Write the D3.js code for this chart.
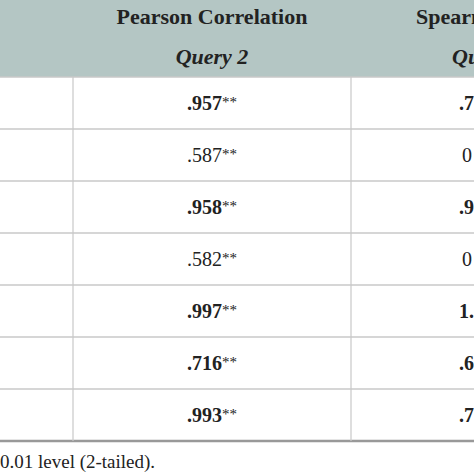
<!DOCTYPE html><html><head><meta charset="utf-8">
<script src="https://cdn.jsdelivr.net/npm/d3@7"></script>
<style>body{margin:0;background:#fff}</style></head><body>
<script>
const rows=[0,1,2,3,4,5,6];
const pearson=[".957",".587",".958",".582",".997",".716",".993"];
const pearsonBold=[true,false,true,false,true,true,true];
const spearman=[".7",  "0", ".9", "0", "1.", ".6", ".7"];
const spearmanBold=[true,false,true,false,true,true,true];
const headers=["Pearson Correlation","Spearman Correlation"];
const subHeaders=["Query 2","Query 2"];
const footnote="0.01 level (2-tailed).";

const W=474,H=474;
const svg=d3.select("body").append("svg").attr("width",W).attr("height",H)
 .style("font-family","'Liberation Serif',serif");
const y=d3.scaleBand().domain(rows).range([77,441]);
svg.append("rect").attr("x",0).attr("y",0).attr("width",W).attr("height",77).attr("fill","#b4c6c4");
svg.append("text").attr("x",212).attr("y",24).attr("text-anchor","middle").attr("font-size",22).attr("font-weight","bold").attr("fill","#222").text(headers[0]);
svg.append("text").attr("x",212).attr("y",64).attr("text-anchor","middle").attr("font-size",22).attr("font-weight","bold").attr("font-style","italic").attr("fill","#222").text(subHeaders[0]);
svg.append("text").attr("x",416).attr("y",24).attr("font-size",22).attr("font-weight","bold").attr("fill","#222").text(headers[1]);
svg.append("text").attr("x",452).attr("y",64).attr("font-size",22).attr("font-weight","bold").attr("font-style","italic").attr("fill","#222").text(subHeaders[1]);
svg.selectAll("line.h").data(rows.slice(1)).join("line").attr("x1",0).attr("x2",W)
 .attr("y1",d=>y(d)).attr("y2",d=>y(d)).attr("stroke","#c8c8c8").attr("stroke-width",1.5);
svg.append("line").attr("x1",0).attr("x2",W).attr("y1",77).attr("y2",77).attr("stroke","#c8c8c8").attr("stroke-width",1.5);
svg.append("line").attr("x1",0).attr("x2",W).attr("y1",441).attr("y2",441).attr("stroke","#999").attr("stroke-width",2.5);
[73,351].forEach(x=>svg.append("line").attr("x1",x).attr("x2",x).attr("y1",77).attr("y2",441).attr("stroke","#c8c8c8").attr("stroke-width",1.2));
const pt=svg.selectAll("text.p").data(rows).join("text").attr("x",212).attr("y",d=>y(d)+y.bandwidth()/2+7)
 .attr("text-anchor","middle").attr("font-size",20).attr("fill","#222");
pt.append("tspan").attr("font-weight",d=>pearsonBold[d]?"bold":"normal").text(d=>pearson[d]);
pt.append("tspan").attr("font-size",15).attr("dy",-3).text("**");
svg.selectAll("text.s").data(rows).join("text").attr("x",d=>spearman[d].length>1?459:462).attr("y",d=>y(d)+y.bandwidth()/2+7)
 .attr("font-size",20).attr("fill","#222")
 .attr("font-weight",d=>spearmanBold[d]?"bold":"normal").text(d=>spearman[d]);
svg.append("text").attr("x",0).attr("y",468).attr("font-size",19).attr("fill","#222").text(footnote);
</script></body></html>
